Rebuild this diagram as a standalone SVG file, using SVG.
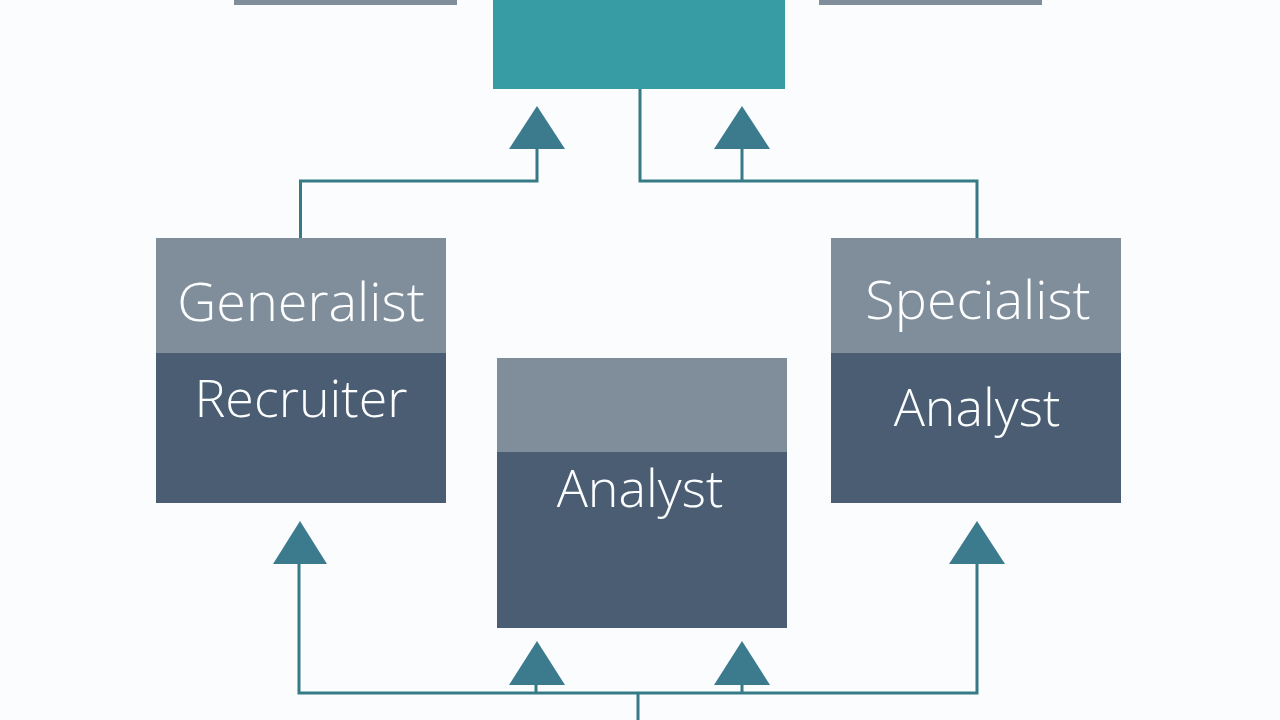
<svg xmlns="http://www.w3.org/2000/svg" width="1280" height="720" viewBox="0 0 1280 720">
<style>
.head{fill:#808e9b}.body{fill:#4a5d72}.teal{fill:#379ca4}
.c{fill:none;stroke:#357a84;stroke-width:3}
.a{fill:#3c7b8e}
text{font-family:"Open Sans","Noto Sans",sans-serif;font-weight:300;fill:#fbfdfe;text-anchor:middle;font-size:52px}
.big{font-size:54px}
</style>
<rect width="1280" height="720" fill="#fafcfe"/>
<g id="connectors">
<path class="c" d="M300.500 238V181H537V145"/>
<path class="c" d="M640 88V181H977V238M742 181V145"/>
<path class="c" d="M638 720V693M299 558V693H977V558M536 693V680M742 693V680"/>
<polygon class="a" points="537,106 565,149 509,149"/>
<polygon class="a" points="742,106 770,149 714,149"/>
<polygon class="a" points="300,521 327,564 273,564"/>
<polygon class="a" points="977,521 1005,564 949,564"/>
<polygon class="a" points="537,641 565,685 509,685"/>
<polygon class="a" points="742,641 770,685 714,685"/>
</g>
<g id="top-left"><rect class="head" x="234" y="-20" width="223" height="25"/></g>
<g id="top-center"><rect class="teal" x="493" y="-20" width="292" height="109"/></g>
<g id="top-right"><rect class="head" x="819" y="-20" width="223" height="25"/></g>
<g id="generalist"><rect class="head" x="156" y="238" width="290" height="115"/><rect class="body" x="156" y="353" width="290" height="150"/>
<text class="big" x="301" y="321">Generalist</text><text x="301" y="417">Recruiter</text></g>
<g id="middle"><rect class="head" x="497" y="358" width="290" height="94"/><rect class="body" x="497" y="452" width="290" height="176"/>
<text x="640" y="507">Analyst</text></g>
<g id="specialist"><rect class="head" x="831" y="238" width="290" height="115"/><rect class="body" x="831" y="353" width="290" height="150"/>
<text class="big" x="978" y="319">Specialist</text><text x="977" y="426">Analyst</text></g>
</svg>
